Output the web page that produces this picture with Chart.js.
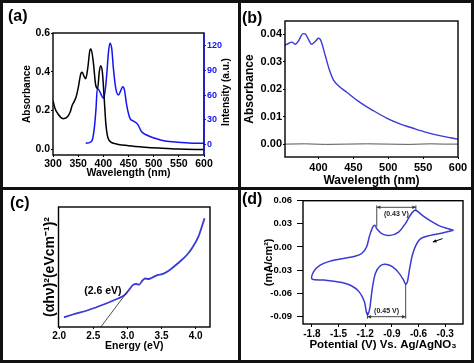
<!DOCTYPE html>
<html>
<head>
<meta charset="utf-8">
<script src="https://cdn.jsdelivr.net/npm/chart.js@4.4.1/dist/chart.umd.min.js"></script>
<style>
  html, body { margin: 0; padding: 0; background: #fff; }
  #fig { position: relative; width: 474px; height: 363px; overflow: hidden; font-family: "Liberation Sans", Arial, sans-serif; }
  .rule { position: absolute; background: #111; }
  canvas { position: absolute; }
  .tag { position: absolute; font-weight: bold; font-size: 16px; line-height: 16px; color: #000; }
</style>
</head>
<body>
<div id="fig">
  <canvas id="ca" width="235" height="184" style="left:3px;top:3px"></canvas>
  <canvas id="cb" width="230" height="184" style="left:241px;top:3px"></canvas>
  <canvas id="cc" width="235" height="170" style="left:3px;top:190px"></canvas>
  <canvas id="cd" width="230" height="170" style="left:241px;top:190px"></canvas>

  <div class="rule" style="left:0;top:0;width:474px;height:3px"></div>
  <div class="rule" style="left:0;top:360px;width:474px;height:3px"></div>
  <div class="rule" style="left:0;top:0;width:3px;height:363px"></div>
  <div class="rule" style="left:471px;top:0;width:3px;height:363px"></div>
  <div class="rule" style="left:238px;top:0;width:3px;height:363px"></div>
  <div class="rule" style="left:0;top:187px;width:474px;height:3px"></div>

  <div class="tag" style="left:8px;top:8px">(a)</div>
  <div class="tag" style="left:242px;top:10px">(b)</div>
  <div class="tag" style="left:10px;top:195px">(c)</div>
  <div class="tag" style="left:242px;top:191px">(d)</div>
</div>
<script>
const FONT = '"Liberation Sans", Arial, sans-serif';
const BLUE = '#3a3ad4';

// (a) solution: absorbance (left axis) and PL intensity (right axis)
const absWl  = [300, 304, 309, 316, 320, 327, 334, 338, 342, 346, 350, 355.6, 358, 362, 365, 369, 373.5, 375.5, 380, 384.8, 388.7, 392, 394.7, 398, 402, 405, 408, 411, 415, 420, 450, 483, 516, 549, 600];
const absVal = [0.25, 0.21, 0.185, 0.162, 0.157, 0.162, 0.19, 0.225, 0.245, 0.27, 0.315, 0.392, 0.397, 0.374, 0.364, 0.417, 0.512, 0.517, 0.452, 0.331, 0.314, 0.4, 0.431, 0.4, 0.25, 0.13, 0.07, 0.047, 0.036, 0.03, 0.017, 0.009, 0.004, 0.0, -0.003];
const plWl   = [365, 373.5, 378, 382, 385.5, 388, 391.4, 395.4, 400, 403.4, 406.7, 410, 413, 416.6, 420, 424.7, 430, 435, 438.7, 442, 446.4, 453, 459.6, 468.3, 476, 486, 502.7, 522.5, 549, 582, 600];
const plVal  = [1.2, 2.4, 5.2, 19.5, 43.8, 68, 66, 60.8, 56, 64, 84.3, 110.7, 123, 117, 92.5, 68, 60, 66, 70, 66, 47.8, 31.6, 28.4, 24.3, 15.3, 11.3, 7.3, 4, 2.4, 1.2, 1.2];
const aXTicks  = [300, 350, 400, 450, 500, 550, 600];
const aYTicks  = [0, 0.2, 0.4, 0.6];
const aY2Ticks = [0, 30, 60, 90, 120];

// (b) film absorbance and baseline
const filmWl  = [352, 357, 362, 367, 371, 378, 381, 386, 390, 395, 400, 403, 409.5, 415.7, 421.4, 428.6, 440.5, 459.5, 478.6, 497.6, 516.7, 535.7, 554.8, 573.8, 600];
const filmAbs = [0.0361, 0.0367, 0.0372, 0.0364, 0.0375, 0.0403, 0.0402, 0.038, 0.0364, 0.0373, 0.0386, 0.038, 0.0325, 0.027, 0.0234, 0.0213, 0.0189, 0.0152, 0.0122, 0.0095, 0.0074, 0.0058, 0.0043, 0.0031, 0.0018];
const baseWl  = [352, 380, 410, 440, 470, 500, 530, 560, 580, 600];
const baseAbs = [0, 0.0001, -0.0001, 0, 0.0001, 0, -0.0001, 0.0001, 0, 0];
const bXTicks = [400, 450, 500, 550, 600];
const bYTicks = [0, 0.01, 0.02, 0.03, 0.04];

// (c) Tauc plot with tangent
const taucE = [2.07, 2.2, 2.43, 2.67, 2.87, 2.97, 3.04, 3.09, 3.13, 3.17, 3.22, 3.26, 3.31, 3.36, 3.43, 3.53, 3.62, 3.74, 3.87, 3.96, 4.04, 4.09, 4.13];
const taucY = [9.7, 12.5, 17, 23, 28.7, 32.7, 38.7, 42.5, 43, 42.3, 46.5, 48.5, 48, 49.3, 51.7, 53.3, 57, 63.7, 72, 80.3, 90.3, 100.3, 108.7];
const fitE = [2.61, 3.0];
const fitY = [0, 35.4];
const gapLabel = [2.64, 36.3];
const cXTicks = [2.0, 2.5, 3.0, 3.5, 4.0];

// (d) cyclic voltammogram
const cvV = [-0.205, -0.265, -0.36, -0.47, -0.565, -0.62, -0.65, -0.695, -0.75, -0.825, -0.92, -1.01, -1.07, -1.09, -1.115, -1.15, -1.185, -1.24, -1.315, -1.445, -1.595, -1.707, -1.78, -1.8, -1.66, -1.475, -1.36, -1.27, -1.21, -1.185, -1.17, -1.148, -1.12, -1.085, -1.03, -0.97, -0.895, -0.82, -0.77, -0.745, -0.725, -0.7, -0.67, -0.63, -0.575, -0.47, -0.32, -0.205];
const cvI = [0.0215, 0.0236, 0.027, 0.034, 0.0416, 0.047, 0.047, 0.0408, 0.03, 0.0193, 0.015, 0.017, 0.0236, 0.0279, 0.0257, 0.015, 0.0, -0.0085, -0.012, -0.015, -0.0184, -0.0235, -0.032, -0.0415, -0.043, -0.0458, -0.05, -0.058, -0.0707, -0.0856, -0.0878, -0.079, -0.0535, -0.034, -0.0244, -0.0226, -0.0257, -0.034, -0.0428, -0.0483, -0.045, -0.0278, -0.0107, 0.002, 0.0108, 0.015, 0.0185, 0.0215];
const oxPeaks  = [-1.07, -0.63];
const redPeaks = [-1.175, -0.745];
const scanArrow = [-0.33, 0.0108, -0.44, 0.0064];
const dXTicks = [-1.8, -1.5, -1.2, -0.9, -0.6, -0.3];
const dYTicks = [-0.09, -0.06, -0.03, 0, 0.03, 0.06];

const pts = (xs, ys) => xs.map((x, i) => ({ x, y: ys[i] }));

function axis(o) {
  const col = o.color || '#000';
  return {
    type: 'linear', position: o.pos, min: o.min, max: o.max,
    afterFit: s => { if (o.pos === 'bottom') s.height = o.size; else s.width = o.size; },
    afterBuildTicks: s => { s.ticks = o.ticks.map(v => ({ value: v })); },
    grid: { display: !o.hide, drawOnChartArea: false, tickLength: o.tl, tickColor: col, tickWidth: 1 },
    border: { display: false },
    ticks: {
      display: !o.hide, padding: o.pad, color: col, maxRotation: 0, autoSkip: false,
      font: { family: FONT, size: o.fs, weight: 'bold' },
      callback: v => v.toFixed(o.dec)
    },
    title: o.title ? {
      display: true, text: o.title, color: '#000',
      font: { family: FONT, size: o.ts, weight: 'bold', lineHeight: 1 },
      padding: { top: o.tp, bottom: o.tp }
    } : { display: false }
  };
}

function frame(rightColor) {
  return {
    id: 'frame',
    afterDatasetsDraw(chart) {
      const { ctx, chartArea: a } = chart;
      ctx.save();
      ctx.lineWidth = 1.4;
      ctx.strokeStyle = '#000';
      ctx.strokeRect(a.left, a.top, a.right - a.left, a.bottom - a.top);
      if (rightColor) {
        ctx.strokeStyle = rightColor;
        ctx.beginPath(); ctx.moveTo(a.right, a.top); ctx.lineTo(a.right, a.bottom); ctx.stroke();
      }
      ctx.restore();
    }
  };
}

function line(data, color, width, extra) {
  return Object.assign({
    data, showLine: true, borderColor: color, borderWidth: width,
    pointRadius: 0, fill: false, cubicInterpolationMode: 'monotone'
  }, extra || {});
}

function make(id, datasets, scales, pad, plugins) {
  return new Chart(document.getElementById(id), {
    type: 'scatter',
    data: { datasets },
    options: {
      responsive: false, animation: false, events: [],
      layout: { padding: pad },
      plugins: { legend: { display: false }, tooltip: { enabled: false } },
      scales
    },
    plugins
  });
}

function seg(ctx, x1, y1, x2, y2) {
  ctx.beginPath(); ctx.moveTo(x1, y1); ctx.lineTo(x2, y2); ctx.stroke();
}
function head(ctx, x, y, ang, len) {
  ctx.beginPath();
  ctx.moveTo(x, y);
  ctx.lineTo(x - len * Math.cos(ang - 0.45), y - len * Math.sin(ang - 0.45));
  ctx.lineTo(x - len * Math.cos(ang + 0.45), y - len * Math.sin(ang + 0.45));
  ctx.closePath(); ctx.fill();
}

// (a)
make('ca', [
  line(pts(absWl, absVal), '#000', 1.5, { yAxisID: 'y' }),
  line(pts(plWl, plVal), '#1414ee', 1.5, { yAxisID: 'y2' })
], {
  x: axis({ pos: 'bottom', min: 300, max: 600, ticks: aXTicks, dec: 0, size: 32, tl: 2, pad: 1, fs: 10.5, title: 'Wavelength (nm)', ts: 10.5, tp: 8.75 }),
  y: axis({ pos: 'left', min: -0.031, max: 0.6, ticks: aYTicks, dec: 1, size: 50, tl: 2, pad: 1, fs: 10.5, title: 'Absorbance', ts: 10, tp: 19 }),
  y2: axis({ pos: 'right', min: -13, max: 135.5, ticks: aY2Ticks, dec: 0, size: 34, tl: 2, pad: 1, fs: 9, color: '#1414ee' })
}, { top: 30, right: 0, left: 0, bottom: 0 }, [frame('#1414ee'), {
  id: 'rightTitle',
  afterDraw(chart) {
    const { ctx, chartArea: a } = chart;
    ctx.save();
    ctx.translate(a.right + 22, 89);
    ctx.rotate(-Math.PI / 2);
    ctx.font = 'bold 10px ' + FONT;
    ctx.fillStyle = '#000';
    ctx.textAlign = 'center'; ctx.textBaseline = 'middle';
    ctx.fillText('Intensity (a.u.)', 0, 0);
    ctx.restore();
  }
}]);

// (b)
make('cb', [
  line(pts(baseWl, baseAbs), '#555', 1),
  line(pts(filmWl, filmAbs), BLUE, 1.4)
], {
  x: axis({ pos: 'bottom', min: 352, max: 600, ticks: bXTicks, dec: 0, size: 30, tl: 2, pad: 2, fs: 11, title: 'Wavelength (nm)', ts: 12, tp: 0.5 }),
  y: axis({ pos: 'left', min: -0.0047, max: 0.0449, ticks: bYTicks, dec: 2, size: 44, tl: 2, pad: 1, fs: 11, title: 'Absorbance', ts: 12, tp: 3 })
}, { top: 18, right: 13, left: 0, bottom: 0 }, [frame()]);

// (c)
make('cc', [
  line(pts(fitE, fitY), '#222', 0.8, { cubicInterpolationMode: 'default' }),
  line(pts(taucE, taucY), BLUE, 1.8)
], {
  x: axis({ pos: 'bottom', min: 1.99, max: 4.21, ticks: cXTicks, dec: 1, size: 33, tl: 2, pad: 1.5, fs: 10, title: 'Energy (eV)', ts: 10.5, tp: 8.75 }),
  y: axis({ pos: 'left', min: 0, max: 120, ticks: [0, 120], dec: 0, size: 55.5, tl: 0, pad: 0, fs: 10, hide: true, title: '(\u03b1h\u03bd)\u00b2(eVcm\u207b\u00b9)\u00b2', ts: 14, tp: 40 })
}, { top: 17, right: 28, left: 0, bottom: 0 }, [frame(), {
  id: 'gapText',
  afterDraw(chart) {
    const { ctx, scales: { x, y } } = chart;
    ctx.save();
    ctx.font = 'bold 10.5px ' + FONT;
    ctx.fillStyle = '#000';
    ctx.textAlign = 'center'; ctx.textBaseline = 'middle';
    ctx.fillText('(2.6 eV)', x.getPixelForValue(gapLabel[0]), y.getPixelForValue(gapLabel[1]));
    ctx.restore();
  }
}]);

// (d)
make('cd', [
  line(pts(cvV, cvI), BLUE, 1.5, { cubicInterpolationMode: 'default', tension: 0.3 })
], {
  x: axis({ pos: 'bottom', min: -1.9, max: -0.1, ticks: dXTicks, dec: 1, size: 36, tl: 3, pad: 1.5, fs: 10, title: 'Potential (V) Vs. Ag/AgNO\u2083', ts: 11.5, tp: 9.5 }),
  y: axis({ pos: 'left', min: -0.1, max: 0.06, ticks: dYTicks, dec: 2, size: 62, tl: 6, pad: 5, fs: 9.5, title: '(mA/cm\u00b2)', ts: 11, tp: 22 })
}, { top: 10, right: 8, left: 0, bottom: 0 }, [frame(), {
  id: 'cvMarks',
  afterDraw(chart) {
    const { ctx, scales: { x, y } } = chart;
    const X = v => x.getPixelForValue(v), Y = v => y.getPixelForValue(v);
    ctx.save();
    ctx.strokeStyle = '#333'; ctx.fillStyle = '#333'; ctx.lineWidth = 0.9;
    // oxidation split
    let yb = Y(0.0514), xl = X(oxPeaks[0]), xr = X(oxPeaks[1]);
    seg(ctx, xl, yb, xr, yb);
    head(ctx, xl, yb, Math.PI, 4); head(ctx, xr, yb, 0, 4);
    seg(ctx, xl, yb - 2, xl, Y(0.0265));
    seg(ctx, xr, yb - 2, xr, Y(0.0465));
    // reduction split
    yb = Y(-0.0905); xl = X(redPeaks[0]); xr = X(redPeaks[1]);
    seg(ctx, xl, yb, xr, yb);
    head(ctx, xl, yb, Math.PI, 4); head(ctx, xr, yb, 0, 4);
    seg(ctx, xl, yb + 2, xl, Y(-0.085));
    seg(ctx, xr, yb + 2, xr, Y(-0.048));
    ctx.font = 'bold 7px ' + FONT;
    ctx.fillStyle = '#222';
    ctx.textAlign = 'center'; ctx.textBaseline = 'middle';
    ctx.fillText('(0.43 V)', X(-0.85), Y(0.043));
    ctx.fillText('(0.45 V)', X(-0.96), Y(-0.0835));
    // scan direction arrow
    const x1 = X(scanArrow[0]), y1 = Y(scanArrow[1]), x2 = X(scanArrow[2]), y2 = Y(scanArrow[3]);
    ctx.strokeStyle = '#000'; ctx.fillStyle = '#000'; ctx.lineWidth = 1;
    seg(ctx, x1, y1, x2, y2);
    head(ctx, x2, y2, Math.atan2(y2 - y1, x2 - x1), 4);
    ctx.restore();
  }
}]);
</script>
</body>
</html>
